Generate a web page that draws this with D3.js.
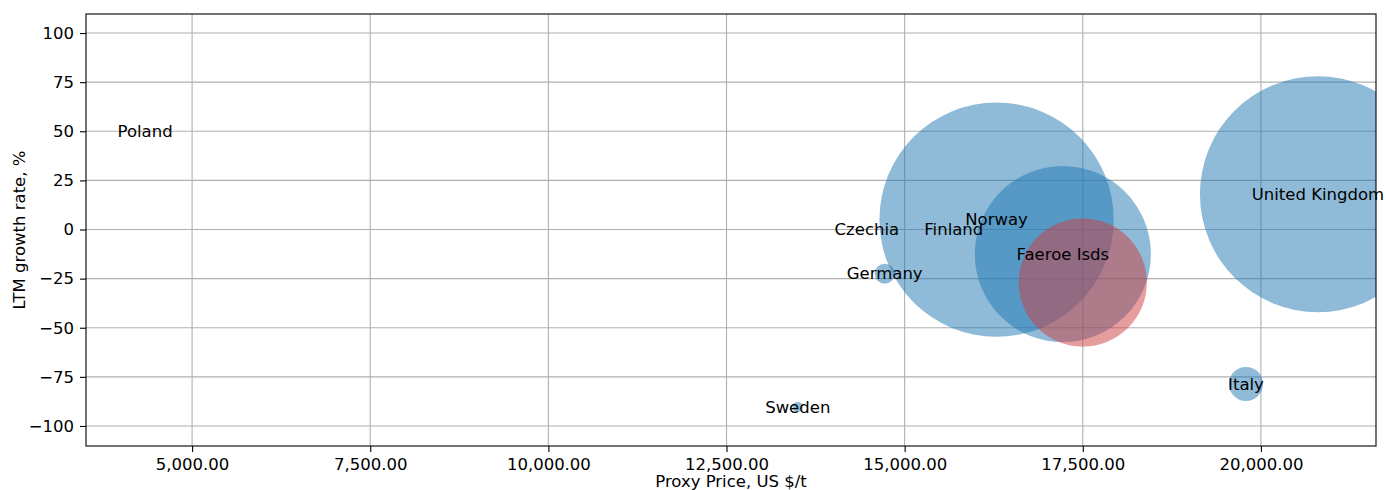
<!DOCTYPE html>
<html>
<head>
<meta charset="utf-8">
<script src="https://cdn.jsdelivr.net/npm/d3@7"></script>
<style>
  body { margin: 0; background: #fff; }
  svg text { font-family: "DejaVu Sans", sans-serif; }
</style>
</head>
<body>
<svg id="chart" width="1386" height="490"></svg>
<script>
//Chart values
var countries = ["Poland", "Czechia", "Finland", "Norway", "Faeroe Isds", "", "Germany", "Sweden", "Italy", "United Kingdom"];
var prices = [4340, 14470, 15690, 16290, 17220, 17500, 14720, 13500, 19790, 20800];
var growth = [50, 0, 0, 5, -12.5, -27, -22.5, -90.3, -78.6, 18];
var volumes = [0, 0, 0, 13700, 7740, 4100, 100, 25, 290, 13900];
var colours = ["#1f77b4", "#1f77b4", "#1f77b4", "#1f77b4", "#1f77b4", "#cd3c3e", "#1f77b4", "#1f77b4", "#1f77b4", "#1f77b4"];
var xTicks = [5000, 7500, 10000, 12500, 15000, 17500, 20000];
var yTicks = [-100, -75, -50, -25, 0, 25, 50, 75, 100];

var data = countries.map(function(c, i) {
    return {name: c, price: prices[i], growth: growth[i], volume: volumes[i], colour: colours[i]};
});

//Set some initial values
var svg = d3.select("#chart"),
    pLeft = 86, pRight = 1376, pTop = 14, pBottom = 446,
    fontSize = "16.5px";

var x = d3.scaleLinear().domain([3511, 21615]).range([pLeft, pRight]);
var y = d3.scaleLinear().domain([-110.2, 109.7]).range([pBottom, pTop]);
var r = d3.scaleSqrt().domain([0, 13900]).range([0, 118]);

svg.append("defs").append("clipPath").attr("id", "plotclip")
    .append("rect").attr("x", pLeft).attr("y", pTop)
    .attr("width", pRight - pLeft).attr("height", pBottom - pTop);

//Grid lines
var grid = svg.append("g");
grid.selectAll(".gx").data(xTicks).enter().append("line")
    .attr("x1", function(d) { return x(d); }).attr("x2", function(d) { return x(d); })
    .attr("y1", pTop).attr("y2", pBottom)
    .attr("stroke", "#b0b0b0").attr("stroke-width", 1.1);
grid.selectAll(".gy").data(yTicks).enter().append("line")
    .attr("y1", function(d) { return y(d); }).attr("y2", function(d) { return y(d); })
    .attr("x1", pLeft).attr("x2", pRight)
    .attr("stroke", "#b0b0b0").attr("stroke-width", 1.1);

//Bubbles
svg.append("g").attr("clip-path", "url(#plotclip)")
    .selectAll("circle").data(data).enter().append("circle")
    .attr("cx", function(d) { return x(d.price); })
    .attr("cy", function(d) { return y(d.growth); })
    .attr("r", function(d) { return r(d.volume); })
    .attr("fill", function(d) { return d.colour; })
    .attr("fill-opacity", 0.5);

//Axes
var fmt = d3.format(",.2f");
var xAxis = svg.append("g")
    .attr("transform", "translate(0," + pBottom + ")")
    .call(d3.axisBottom(x).tickValues(xTicks).tickFormat(fmt).tickSize(6).tickPadding(6));
var yAxis = svg.append("g")
    .attr("transform", "translate(" + pLeft + ",0)")
    .call(d3.axisLeft(y).tickValues(yTicks).tickFormat(function(d) { return d < 0 ? "\u2212" + Math.abs(d) : d; }).tickSize(6).tickPadding(6));
[xAxis, yAxis].forEach(function(a) {
    a.select(".domain").remove();
    a.selectAll("text").style("font-size", fontSize).attr("fill", "#000");
    a.selectAll("line").attr("stroke", "#000").attr("stroke-width", 1.1);
});

//Frame
svg.append("rect")
    .attr("x", pLeft).attr("y", pTop)
    .attr("width", pRight - pLeft).attr("height", pBottom - pTop)
    .attr("fill", "none").attr("stroke", "#000").attr("stroke-width", 1.1);

//Labels
svg.append("g").selectAll("text").data(data.filter(function(d) { return d.name; })).enter().append("text")
    .attr("x", function(d) { return x(d.price); })
    .attr("y", function(d) { return y(d.growth); })
    .attr("text-anchor", "middle")
    .attr("dy", "0.35em")
    .style("font-size", fontSize)
    .text(function(d) { return d.name; });

svg.append("text")
    .attr("x", (pLeft + pRight) / 2).attr("y", 487)
    .attr("text-anchor", "middle")
    .style("font-size", fontSize)
    .text("Proxy Price, US $/t");
svg.append("text")
    .attr("transform", "translate(25," + ((pTop + pBottom) / 2) + ") rotate(-90)")
    .attr("text-anchor", "middle")
    .style("font-size", fontSize)
    .text("LTM growth rate, %");
</script>
</body>
</html>
